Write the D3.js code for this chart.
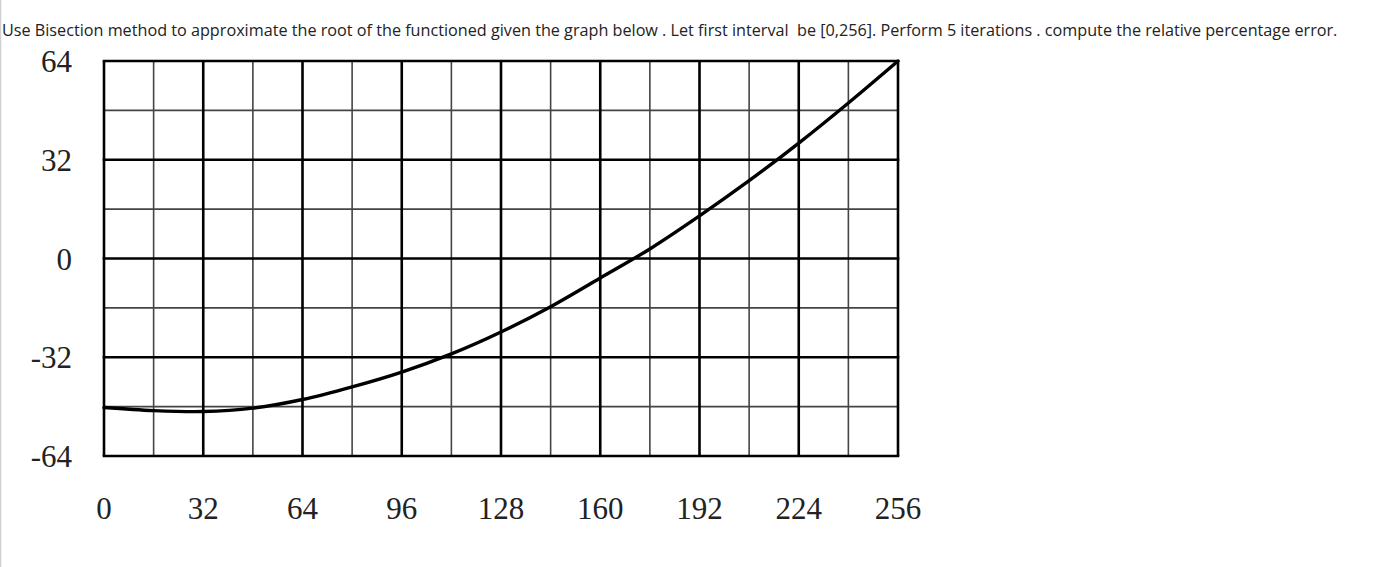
<!DOCTYPE html>
<html>
<head>
<meta charset="utf-8">
<script src="https://cdn.jsdelivr.net/npm/d3@7"></script>
<style>
  body { margin: 0; background: #fff; }
  svg { display: block; }
  .title { font-family: "Open Sans", sans-serif; font-size: 16.2px; fill: #222; white-space: pre; }
  .tick { font-family: "Liberation Serif", serif; font-size: 31px; fill: #222; }
</style>
</head>
<body>
<div id="chart"></div>
<script>
// curve, one point every 16 units
const xValues = [0, 16, 32, 48, 64, 80, 96, 112, 128, 144, 160, 176, 192, 208, 224, 240, 256];
const yValues = [-48.3, -49.3, -49.6, -48.5, -45.7, -41.6, -36.8, -30.9, -23.8, -15.6, -6.3, 3.1, 13.8, 25.2, 37.4, 50.4, 64];
const xTicks = [0, 32, 64, 96, 128, 160, 192, 224, 256];
const yTicks = [-64, -32, 0, 32, 64];
const titleText = "Use Bisection method to approximate the root of the functioned given the graph below . Let first interval  be [0,256]. Perform 5 iterations . compute the relative percentage error.";

const W = 1382, H = 567;
const margin = {top: 61, right: 484, bottom: 111, left: 104};

const svg = d3.select("#chart").append("svg")
    .attr("width", W)
    .attr("height", H);

// grey page border on the left
svg.append("line")
    .attr("x1", 0.5).attr("x2", 0.5)
    .attr("y1", 0).attr("y2", H)
    .attr("stroke", "#d0d0d0")
    .attr("stroke-width", 1.5);

svg.append("text")
    .attr("class", "title")
    .attr("x", 2)
    .attr("y", 36)
    .text(titleText);

const x = d3.scaleLinear().domain([0, 256]).range([margin.left, W - margin.right]);
const y = d3.scaleLinear().domain([-64, 64]).range([H - margin.bottom, margin.top]);

const grid = svg.append("g");

// minor grid every 16
const minorX = d3.range(16, 256, 32);
const minorY = d3.range(-48, 64, 32);
grid.selectAll(".minorX").data(minorX).join("line")
    .attr("x1", d => x(d)).attr("x2", d => x(d))
    .attr("y1", y(64)).attr("y2", y(-64))
    .attr("stroke", "#444").attr("stroke-width", 1.6);
grid.selectAll(".minorY").data(minorY).join("line")
    .attr("y1", d => y(d)).attr("y2", d => y(d))
    .attr("x1", x(0)).attr("x2", x(256))
    .attr("stroke", "#444").attr("stroke-width", 1.6);

// major grid every 32
grid.selectAll(".majorX").data(xTicks).join("line")
    .attr("x1", d => x(d)).attr("x2", d => x(d))
    .attr("y1", y(64)).attr("y2", y(-64))
    .attr("stroke", "#000").attr("stroke-width", 2.6);
grid.selectAll(".majorY").data(yTicks).join("line")
    .attr("y1", d => y(d)).attr("y2", d => y(d))
    .attr("x1", x(0) - 1.3).attr("x2", x(256) + 1.3)
    .attr("stroke", "#000").attr("stroke-width", 2.6);

// tick labels
svg.selectAll(".ylab").data(yTicks).join("text")
    .attr("class", "tick")
    .attr("x", 72)
    .attr("y", d => y(d) + 11)
    .attr("text-anchor", "end")
    .text(d => d);

svg.selectAll(".xlab").data(xTicks).join("text")
    .attr("class", "tick")
    .attr("x", d => x(d))
    .attr("y", 519)
    .attr("text-anchor", "middle")
    .text(d => d);

// the function
const pts = xValues.map((d, i) => [d, yValues[i]]);
const line = d3.line()
    .x(d => x(d[0]))
    .y(d => y(d[1]))
    .curve(d3.curveCatmullRom);

svg.append("path")
    .datum(pts)
    .attr("d", line)
    .attr("fill", "none")
    .attr("stroke", "#000")
    .attr("stroke-width", 3.4)
    .attr("stroke-linecap", "round");
</script>
</body>
</html>
